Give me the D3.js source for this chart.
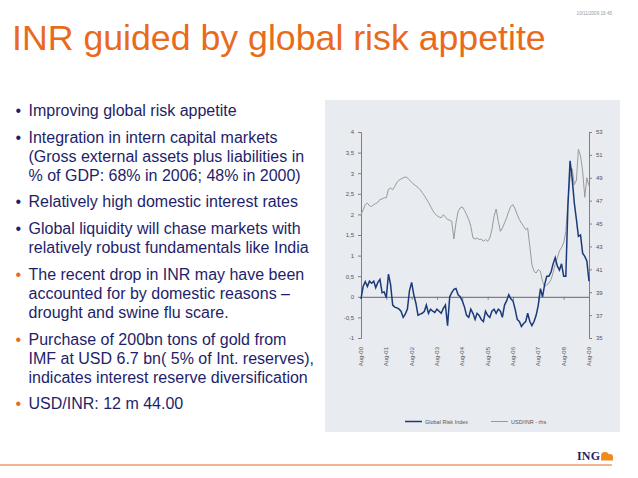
<!DOCTYPE html>
<html>
<head>
<meta charset="utf-8">
<script src="https://cdn.jsdelivr.net/npm/d3@7"></script>
<style>
  body { margin: 0; background: #fff; }
  svg { display: block; font-family: "Liberation Sans", Arial, sans-serif; }
</style>
</head>
<body>
<div id="slide"></div>
<script>
// Monthly observations, Aug-00 .. Aug-09
const months = d3.timeMonth.range(new Date(2000, 7, 1), new Date(2009, 8, 1));

// Global Risk Index (lhs)
const riskIndex = [
  -0.05, 0.25, 0.37, 0.25, 0.38, 0.33, 0.38, 0.22, 0.35, 0.42,
  0.10, 0.12, -0.02, 0.55, 0.30, -0.20, -0.25, -0.27, -0.30, -0.35,
  -0.50, -0.42, -0.30, 0.15, 0.35, 0.05, -0.15, -0.45, -0.42, -0.40,
  -0.35, -0.20, -0.40, -0.30, -0.35, -0.38, -0.30, -0.35, -0.40, -0.28,
  -0.20, -0.70, 0.00, 0.10, 0.18, 0.20, 0.05, 0.00, -0.10, -0.25,
  -0.45, -0.50, -0.30, -0.40, -0.55, -0.40, -0.45, -0.55, -0.60, -0.35,
  -0.45, -0.50, -0.35, -0.30, -0.40, -0.30, -0.35, -0.50, -0.20, -0.10,
  0.05, -0.05, -0.10, -0.30, -0.55, -0.60, -0.72, -0.65, -0.60, -0.40,
  -0.60, -0.70, -0.60, -0.45, -0.20, 0.20, 0.00, 0.30, 0.50, 0.50,
  0.60, 0.80, 0.95, 0.75, 0.65, 0.80, 0.50, 0.50, 2.20, 3.30,
  2.88, 2.28, 1.87, 1.47, 1.50, 1.06, 0.98, 0.87, 0.38
];

// USD/INR (rhs)
const usdInr = [
  45.78, 46.2, 46.65, 46.8, 46.55, 46.5, 46.65, 46.75, 46.85, 47.1,
  47.15, 47.25, 47.25, 48.0, 48.1, 47.95, 48.25, 48.6, 48.8, 48.9,
  49.0, 49.07, 49.0, 48.8, 48.6, 48.43, 48.3, 48.15, 47.95, 47.7,
  47.44, 47.15, 46.85, 46.5, 46.15, 45.86, 45.7, 45.57, 45.5, 45.78,
  45.57, 45.35, 45.3, 45.2, 43.65, 45.05, 46.07, 46.36, 46.45, 46.15,
  45.78, 45.35, 44.76, 43.74, 43.65, 43.74, 43.6, 43.65, 43.45, 43.6,
  43.45, 43.74, 44.47, 45.63, 46.27, 45.2, 44.32, 44.6, 45.05, 45.5,
  46.07, 46.5, 46.65, 46.27, 45.78, 45.35, 45.05, 44.76, 44.47, 44.6,
  43.0, 41.4, 40.82, 40.68, 40.97, 40.82, 39.95, 39.5, 39.65, 39.8,
  40.1, 40.7, 41.5, 42.0, 42.6, 42.9, 43.3, 44.3, 47.0, 49.0,
  49.8, 48.4, 48.8, 51.5, 50.9, 49.6, 47.3, 49.0, 48.3
];

const leftTicks = [-1, -0.5, 0, 0.5, 1, 1.5, 2, 2.5, 3, 3.5, 4];
const rightTicks = [35, 37, 39, 41, 43, 45, 47, 49, 51, 53];
const xTicks = d3.timeYear.range(new Date(2000, 0, 1), new Date(2010, 0, 1)).map(d => new Date(d.getFullYear(), 7, 1));
const seriesNames = ["Global Risk Index", "USD/INR - rhs"];

const bullets = [
  { color: "#1e1e6a", lines: ["Improving global risk appetite"] },
  { color: "#1e1e6a", lines: ["Integration in intern capital markets", "(Gross external assets plus liabilities in", "% of GDP: 68% in 2006; 48% in 2000)"] },
  { color: "#1e1e6a", lines: ["Relatively high domestic interest rates"] },
  { color: "#1e1e6a", lines: ["Global liquidity will chase markets with", "relatively robust fundamentals like India"] },
  { color: "#ea6a1c", lines: ["The recent drop in INR may have been", "accounted for by domestic reasons \u2013", "drought and swine flu scare."] },
  { color: "#ea6a1c", lines: ["Purchase of 200bn tons of gold from", "IMF at USD 6.7 bn( 5% of Int. reserves),", "indicates interest reserve diversification"] },
  { color: "#ea6a1c", lines: ["USD/INR: 12 m 44.00"] }
];

const width = 638, height = 478;
const svg = d3.select("#slide").append("svg")
  .attr("width", width).attr("height", height);

// Title and timestamp
svg.append("text")
  .text("INR guided by global risk appetite")
  .attr("x", 12).attr("y", 50)
  .attr("font-size", 35.7).attr("fill", "#ea6a1c");

svg.append("text")
  .text("10/11/2009 16:45")
  .attr("x", 612).attr("y", 15)
  .attr("text-anchor", "end")
  .attr("font-size", 4.6).attr("fill", "#999");

// Bullet list
let baseline = 116;
bullets.forEach(b => {
  svg.append("text").text("\u2022")
    .attr("x", 15.5).attr("y", baseline)
    .attr("font-size", 16).attr("fill", b.color);
  b.lines.forEach((line, i) => {
    svg.append("text").text(line)
      .attr("x", 28.5).attr("y", baseline + i * 19)
      .attr("font-size", 16).attr("fill", "#1e1e6a");
  });
  baseline += (b.lines.length - 1) * 19 + 26.7;
});

// Chart panel
svg.append("rect")
  .attr("x", 325).attr("y", 100)
  .attr("width", 295).attr("height", 332)
  .attr("fill", "#e8ebf0");

const x = d3.scaleTime()
  .domain([new Date(2000, 7, 1), new Date(2009, 7, 1)])
  .range([361, 589]);
const yLeft = d3.scaleLinear().domain([-1, 4]).range([338, 132]);
const yRight = d3.scaleLinear().domain([35, 53]).range([338, 132]);

// decimal comma, as on the original axis
const comma = d => String(d).replace(".", ",");

const chart = svg.append("g");

const styleAxis = g => {
  g.select(".domain").attr("stroke", "#808080");
  g.selectAll(".tick line").attr("stroke", "#808080");
  g.selectAll(".tick text").attr("fill", "#555").attr("font-size", 6);
};

chart.append("g")
  .attr("transform", "translate(361,0)")
  .call(d3.axisLeft(yLeft).tickValues(leftTicks).tickSize(3).tickPadding(4).tickFormat(comma))
  .call(styleAxis);

chart.append("g")
  .attr("transform", "translate(589,0)")
  .call(d3.axisRight(yRight).tickValues(rightTicks).tickSize(3).tickPadding(4))
  .call(styleAxis);

// Zero line carries the date ticks
chart.append("g")
  .attr("transform", `translate(0,${yLeft(0)})`)
  .call(d3.axisBottom(x).tickValues(xTicks).tickSize(3).tickFormat(""))
  .call(g => {
    g.select(".domain").attr("stroke", "#666");
    g.selectAll(".tick line").attr("stroke", "#808080");
  });

chart.append("g")
  .selectAll("text")
  .data(xTicks)
  .join("text")
  .text(d3.timeFormat("%b-%y"))
  .attr("transform", d => `translate(${x(d) + 2},347) rotate(-90)`)
  .attr("text-anchor", "end")
  .attr("font-size", 6)
  .attr("fill", "#555");

// Lines
const grayLine = d3.line()
  .x((d, i) => x(months[i]))
  .y(d => yRight(d));

const blueLine = d3.line()
  .x((d, i) => x(months[i]))
  .y(d => yLeft(d));

chart.append("path")
  .datum(usdInr)
  .attr("d", grayLine)
  .attr("fill", "none")
  .attr("stroke", "#9a9a9a")
  .attr("stroke-width", 1);

chart.append("path")
  .datum(riskIndex)
  .attr("d", blueLine)
  .attr("fill", "none")
  .attr("stroke", "#1b3a7a")
  .attr("stroke-width", 1.5);

// Legend
const legend = [
  { x: 405, color: "#1b3a7a", w: 1.5 },
  { x: 491, color: "#9a9a9a", w: 1 }
];
legend.forEach((l, i) => {
  svg.append("line")
    .attr("x1", l.x).attr("x2", l.x + 17)
    .attr("y1", 421.5).attr("y2", 421.5)
    .attr("stroke", l.color).attr("stroke-width", l.w);
  svg.append("text").text(seriesNames[i])
    .attr("x", l.x + 20).attr("y", 423.5)
    .attr("font-size", 5.5).attr("fill", "#555");
});

// Footer
svg.append("line")
  .attr("x1", 0).attr("x2", 612)
  .attr("y1", 465).attr("y2", 465)
  .attr("stroke", "#ea6a1c").attr("stroke-width", 1.2);

svg.append("text").text("ING")
  .attr("x", 577).attr("y", 460)
  .attr("font-family", "Liberation Serif, serif")
  .attr("font-weight", "bold")
  .attr("font-size", 12)
  .attr("textLength", 23)
  .attr("fill", "#1e1e6a");

// Lion mark
const lion = svg.append("g").attr("fill", "#f08a1c");
lion.append("ellipse").attr("cx", 605).attr("cy", 456).attr("rx", 4).attr("ry", 4);
lion.append("ellipse").attr("cx", 610).attr("cy", 457).attr("rx", 3).attr("ry", 3);
lion.append("rect").attr("x", 601).attr("y", 458).attr("width", 12).attr("height", 2.5);
</script>
</body>
</html>
